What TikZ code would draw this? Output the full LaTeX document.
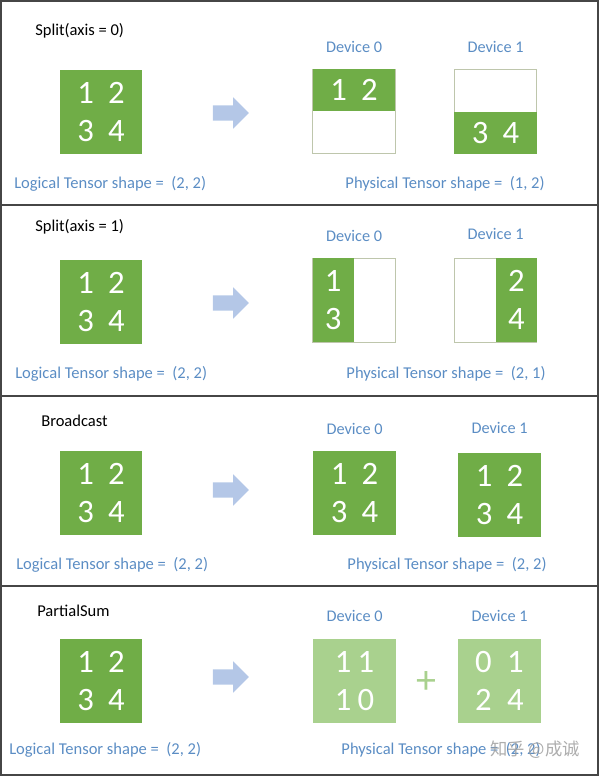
\documentclass[tikz,border=0pt]{standalone}
\usepackage{fontspec}
\setmainfont{Carlito}
\newfontfamily\cjk{Noto Sans CJK SC}
\usetikzlibrary{positioning,shapes.arrows}

\definecolor{tgreen}{RGB}{112,173,71}
\definecolor{tlight}{RGB}{169,209,142}
\definecolor{tblue}{RGB}{91,141,196}
\definecolor{tarrow}{RGB}{180,199,231}
\definecolor{tedge}{RGB}{190,198,172}
\definecolor{tpanel}{RGB}{70,70,70}

% two digits of one row, in fixed columns
\newcommand{\digits}[3][23pt]{\makebox[#1]{#2}\makebox[#1]{#3}}

\tikzset{
  digitfont/.style={font=\fontsize{24.5}{28}\selectfont},
  tensor/.style={fill=tgreen, text=white, minimum width=62pt, minimum height=63pt, inner sep=0pt, align=center, digitfont},
  partial/.style={tensor, fill=tlight},
  emptybox/.style={draw=tedge, line width=0.6pt, fill=white, minimum width=62pt, minimum height=63pt, inner sep=0pt},
  rowhalf/.style={fill=tgreen, text=white, minimum width=62pt, minimum height=31.5pt, inner sep=0pt, digitfont},
  colhalf/.style={fill=tgreen, text=white, minimum width=31pt, minimum height=63pt, inner sep=0pt, align=center, digitfont},
  title/.style={anchor=west, inner sep=0pt, font=\fontsize{12.4}{14}\selectfont},
  shapelabel/.style={inner sep=0pt, text=tblue, font=\fontsize{12.4}{14}\selectfont},
  device/.style={inner sep=0pt, text=tblue, font=\fontsize{12.2}{14}\selectfont},
  move/.style={single arrow, fill=tarrow, inner sep=0pt, minimum height=27pt, single arrow head extend=6pt},
  panel/.style={draw=tpanel, line width=0.9pt}
}

\begin{document}
\begin{tikzpicture}[x=0.75pt, y=-0.75pt]
\useasboundingbox (0,0) rectangle (600,777);

% panels
\draw[panel] (1,1) rectangle (598,775);
\draw[panel] (1,205) -- (598,205);
\draw[panel] (1,396) -- (598,396);
\draw[panel] (1,586) -- (598,586);

%% Split(axis = 0)
\node[title] (t0) at (35,31) {Split(axis = 0)};
\node[tensor] (log0) at (101,112) {\digits{1}{2}\\\digits{3}{4}};
\node[move] (arr0) at (227,113) {\rule{0pt}{11pt}};
\node[shapelabel, anchor=west] (ls0) at (14,184) {Logical Tensor shape =~~(2, 2)};

\node[emptybox] (a0) at (354,111.5) {};
\node[rowhalf, anchor=north] (a0top) at (a0.north) {\digits{1}{2}};
\node[device, above=12pt of a0] (a0dev) {Device 0};
\node[emptybox] (b0) at (495.5,111.5) {};
\node[rowhalf, anchor=south] (b0bot) at (b0.south) {\digits{3}{4}};
\node[device, above=12pt of b0] (b0dev) {Device 1};
\node[shapelabel] (ps0) at (445,184) {Physical Tensor shape =~~(1, 2)};

%% Split(axis = 1)
\node[title] (t1) at (35,227) {Split(axis = 1)};
\node[tensor] (log1) at (101,302) {\digits{1}{2}\\\digits{3}{4}};
\node[move] (arr1) at (227,303) {\rule{0pt}{11pt}};
\node[shapelabel, anchor=west] (ls1) at (15,374) {Logical Tensor shape =~~(2, 2)};

\node[emptybox] (a1) at (354,300) {};
\node[colhalf, anchor=west] (a1left) at (a1.west) {1\\3};
\node[device, above=12pt of a1] (a1dev) {Device 0};
\node[emptybox] (b1) at (495.5,300) {};
\node[colhalf, anchor=east] (b1right) at (b1.east) {2\\4};
\node[device, above=13pt of b1] (b1dev) {Device 1};
\node[shapelabel] (ps1) at (446,374) {Physical Tensor shape =~~(2, 1)};

%% Broadcast
\node[title] (t2) at (41,421) {Broadcast};
\node[tensor] (log2) at (101,493) {\digits{1}{2}\\\digits{3}{4}};
\node[move] (arr2) at (227,490) {\rule{0pt}{11pt}};
\node[shapelabel, anchor=west] (ls2) at (16,565) {Logical Tensor shape =~~(2, 2)};

\node[tensor] (a2) at (354.5,493) {\digits{1}{2}\\\digits{3}{4}};
\node[device, above=12pt of a2] (a2dev) {Device 0};
\node[tensor] (b2) at (499.5,495) {\digits{1}{2}\\\digits{3}{4}};
\node[device, above=14pt of b2] (b2dev) {Device 1};
\node[shapelabel] (ps2) at (447,565) {Physical Tensor shape =~~(2, 2)};

%% PartialSum
\node[title] (t3) at (37,611) {PartialSum};
\node[tensor] (log3) at (101,681) {\digits{1}{2}\\\digits{3}{4}};
\node[move] (arr3) at (227,677) {\rule{0pt}{11pt}};
\node[shapelabel, anchor=west] (ls3) at (9,750) {Logical Tensor shape =~~(2, 2)};

\node[partial] (a3) at (354.5,681) {\digits[17pt]{1}{1}\\\digits[17pt]{1}{0}};
\node[device, above=13pt of a3] (a3dev) {Device 0};
\node[text=tlight, inner sep=0pt, font=\fontsize{30}{30}\selectfont] (plus) at (426,682) {+};
\node[partial] (b3) at (499.5,681) {\digits[24pt]{0}{1}\\\digits[24pt]{2}{4}};
\node[device, above=13pt of b3] (b3dev) {Device 1};
\node[shapelabel] (ps3) at (441,750) {Physical Tensor shape =~~(2, 2)};

\node[anchor=west, inner sep=0pt, text=gray!75, opacity=0.85, font=\cjk\fontsize{13}{14}\selectfont] (mark) at (490,750) {知乎 @成诚};

\end{tikzpicture}
\end{document}
